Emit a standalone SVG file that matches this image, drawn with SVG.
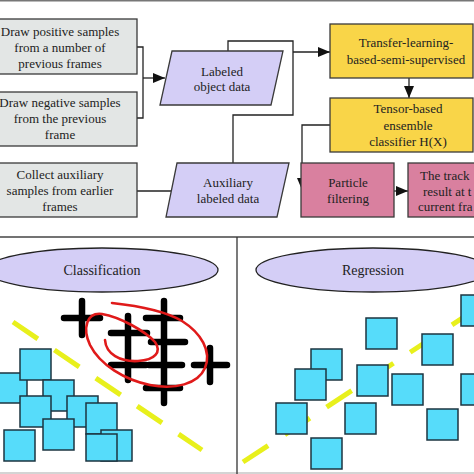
<svg xmlns="http://www.w3.org/2000/svg" width="474" height="474" viewBox="0 0 474 474">
<defs>
<style>
text{fill:#222}
.t{font-size:13px;text-anchor:middle}
.ts{font-size:13px;text-anchor:start}
.tl{font-size:14px;text-anchor:middle}
.gray{fill:#e3e6e5;stroke:#3a3a3a;stroke-width:1.3}
.lav{fill:#d4cef6;stroke:#3a3a3a;stroke-width:1.3}
.yel{fill:#f9d548;stroke:#3a3a3a;stroke-width:1.3}
.pink{fill:#d9809f;stroke:#3a3a3a;stroke-width:1.3}
.c{fill:none;stroke:#222;stroke-width:1.3}
.sq{fill:#56dcfa;stroke:#1c3440;stroke-width:1.5}
.dash{fill:none;stroke:#e8f01c;stroke-width:5;stroke-dasharray:30 20}
.cross{fill:none;stroke:#000;stroke-width:6.5;stroke-linecap:round}
.ell{fill:#d4cef6;stroke:#222;stroke-width:1.3}
</style>
<marker id="ah" viewBox="0 0 12 10" refX="12" refY="5" markerWidth="12" markerHeight="10" markerUnits="userSpaceOnUse" orient="auto">
<path d="M0,0 L12,5 L0,10 z" fill="#111"/>
</marker>
</defs>
<rect x="0" y="0" width="474" height="474" fill="#fff"/>
<rect x="0" y="0" width="474" height="1.5" fill="#777"/>
<rect x="0" y="472" width="474" height="2" fill="#d4d4d4"/>

<g id="connectors">
<path class="c" d="M137,47 H143 V118 H137"/>
<path class="c" d="M143,78 H165" marker-end="url(#ah)"/>
<path class="c" d="M228,51 V41 H293 V115 H233 V163"/>
<path class="c" d="M293,52 H330" marker-end="url(#ah)"/>
<path class="c" d="M409,78 V98" marker-end="url(#ah)"/>
<path class="c" d="M330,125 H302 V190" marker-end="url(#ah)"/>
<path class="c" d="M394,191 H408" marker-end="url(#ah)"/>
<path class="c" d="M137,191 H171"/>
</g>

<g id="draw-positive">
<rect class="gray" x="-3" y="19" width="140" height="55"/>
<text class="t" font-family="Liberation Serif" x="60" y="36">Draw positive samples</text>
<text class="t" font-family="Liberation Serif" x="60" y="52">from a number of</text>
<text class="t" font-family="Liberation Serif" x="60" y="67.5">previous frames</text>
</g>
<g id="draw-negative">
<rect class="gray" x="-3" y="92" width="140" height="54"/>
<text class="t" font-family="Liberation Serif" x="60" y="107">Draw negative samples</text>
<text class="t" font-family="Liberation Serif" x="60" y="123">from the previous</text>
<text class="t" font-family="Liberation Serif" x="60" y="139">frame</text>
</g>
<g id="collect-auxiliary">
<rect class="gray" x="-3" y="163" width="140" height="54"/>
<text class="t" font-family="Liberation Serif" x="60" y="179">Collect auxiliary</text>
<text class="t" font-family="Liberation Serif" x="60" y="195">samples from earlier</text>
<text class="t" font-family="Liberation Serif" x="60" y="211">frames</text>
</g>
<g id="labeled-object-data">
<polygon class="lav" points="172,51 283,51 271,105 160,105"/>
<text class="t" font-family="Liberation Serif" x="222" y="76">Labeled</text>
<text class="t" font-family="Liberation Serif" x="222" y="91">object data</text>
</g>
<g id="auxiliary-labeled-data">
<polygon class="lav" points="177,163 289,163 277,217 166,217"/>
<text class="t" font-family="Liberation Serif" x="228" y="187">Auxiliary</text>
<text class="t" font-family="Liberation Serif" x="228" y="203">labeled data</text>
</g>
<g id="transfer-learning">
<rect class="yel" x="330" y="24" width="143" height="54"/>
<text class="t" font-family="Liberation Serif" x="406" y="47">Transfer-learning-</text>
<text class="t" font-family="Liberation Serif" x="406" y="64">based-semi-supervised</text>
</g>
<g id="tensor-classifier">
<rect class="yel" x="330" y="98" width="143" height="54"/>
<text class="t" font-family="Liberation Serif" x="408" y="113">Tensor-based</text>
<text class="t" font-family="Liberation Serif" x="408" y="130">ensemble</text>
<text class="t" font-family="Liberation Serif" x="408" y="146">classifier H(X)</text>
</g>
<g id="particle-filtering">
<rect class="pink" x="301" y="163" width="93" height="54"/>
<text class="t" font-family="Liberation Serif" x="348" y="187">Particle</text>
<text class="t" font-family="Liberation Serif" x="348" y="203">filtering</text>
</g>
<g id="track-result">
<rect class="pink" x="408" y="163" width="100" height="54"/>
<text class="ts" font-family="Liberation Serif" x="420" y="180">The track</text>
<text class="ts" font-family="Liberation Serif" x="423" y="196">result at t</text>
<text class="ts" font-family="Liberation Serif" x="418" y="211">current fra</text>
</g>

<g id="panels">
<line x1="0" y1="237" x2="474" y2="237" stroke="#444" stroke-width="1.3"/>
<line x1="237" y1="237" x2="237" y2="474" stroke="#333" stroke-width="1.3"/>
</g>

<g id="classification-panel">
<ellipse class="ell" cx="102" cy="270" rx="116" ry="22"/>
<text class="tl" font-family="Liberation Serif" x="102" y="275">Classification</text>
<line class="dash" x1="13" y1="322" x2="202" y2="450"/>
<rect class="sq" x="-5" y="373" width="32" height="30"/>
<rect class="sq" x="20" y="349" width="31" height="31"/>
<rect class="sq" x="43" y="380" width="31" height="31"/>
<rect class="sq" x="20" y="396" width="31" height="31"/>
<rect class="sq" x="67" y="396" width="31" height="31"/>
<rect class="sq" x="86" y="403" width="31" height="31"/>
<rect class="sq" x="43" y="419" width="31" height="31"/>
<rect class="sq" x="101" y="430" width="31" height="31"/>
<rect class="sq" x="4" y="430" width="31" height="31"/>
<rect class="sq" x="86" y="434" width="31" height="27"/>
<path class="cross" d="M82,301 V335 M64,318 H100"/>
<path class="cross" d="M128,316 V380 M111,333 H147 M111,365 H146"/>
<path class="cross" d="M164,301 V403 M146,318 H180 M151,342 H185 M149,365 H182 M146,388 H180"/>
<path class="cross" d="M210,348 V382 M194,365 H227"/>
<path d="M112,303 C140,306 165,311 182,321 C201,333 212,351 205,368 C198,384 175,390 150,385 C125,380 100,365 90,345 C82,328 87,312 102,314 C120,317 145,331 155,342 C162,352 155,360 138,361 C120,362 106,354 105,340" fill="none" stroke="#e01a1a" stroke-width="2.6" stroke-linecap="round"/>
</g>

<g id="regression-panel">
<ellipse class="ell" cx="373" cy="270" rx="117" ry="22"/>
<text class="tl" font-family="Liberation Serif" x="373" y="275">Regression</text>
<line class="dash" x1="243" y1="462" x2="470" y2="313"/>
<rect class="sq" x="366" y="318" width="31" height="31"/>
<rect class="sq" x="422" y="334" width="31" height="31"/>
<rect class="sq" x="461" y="295" width="31" height="31"/>
<rect class="sq" x="311" y="349" width="31" height="31"/>
<rect class="sq" x="295" y="369" width="31" height="31"/>
<rect class="sq" x="357" y="365" width="31" height="31"/>
<rect class="sq" x="392" y="374" width="31" height="31"/>
<rect class="sq" x="461" y="374" width="31" height="31"/>
<rect class="sq" x="276" y="403" width="31" height="31"/>
<rect class="sq" x="345" y="403" width="31" height="31"/>
<rect class="sq" x="427" y="409" width="31" height="31"/>
<rect class="sq" x="311" y="438" width="31" height="31"/>
</g>
</svg>
